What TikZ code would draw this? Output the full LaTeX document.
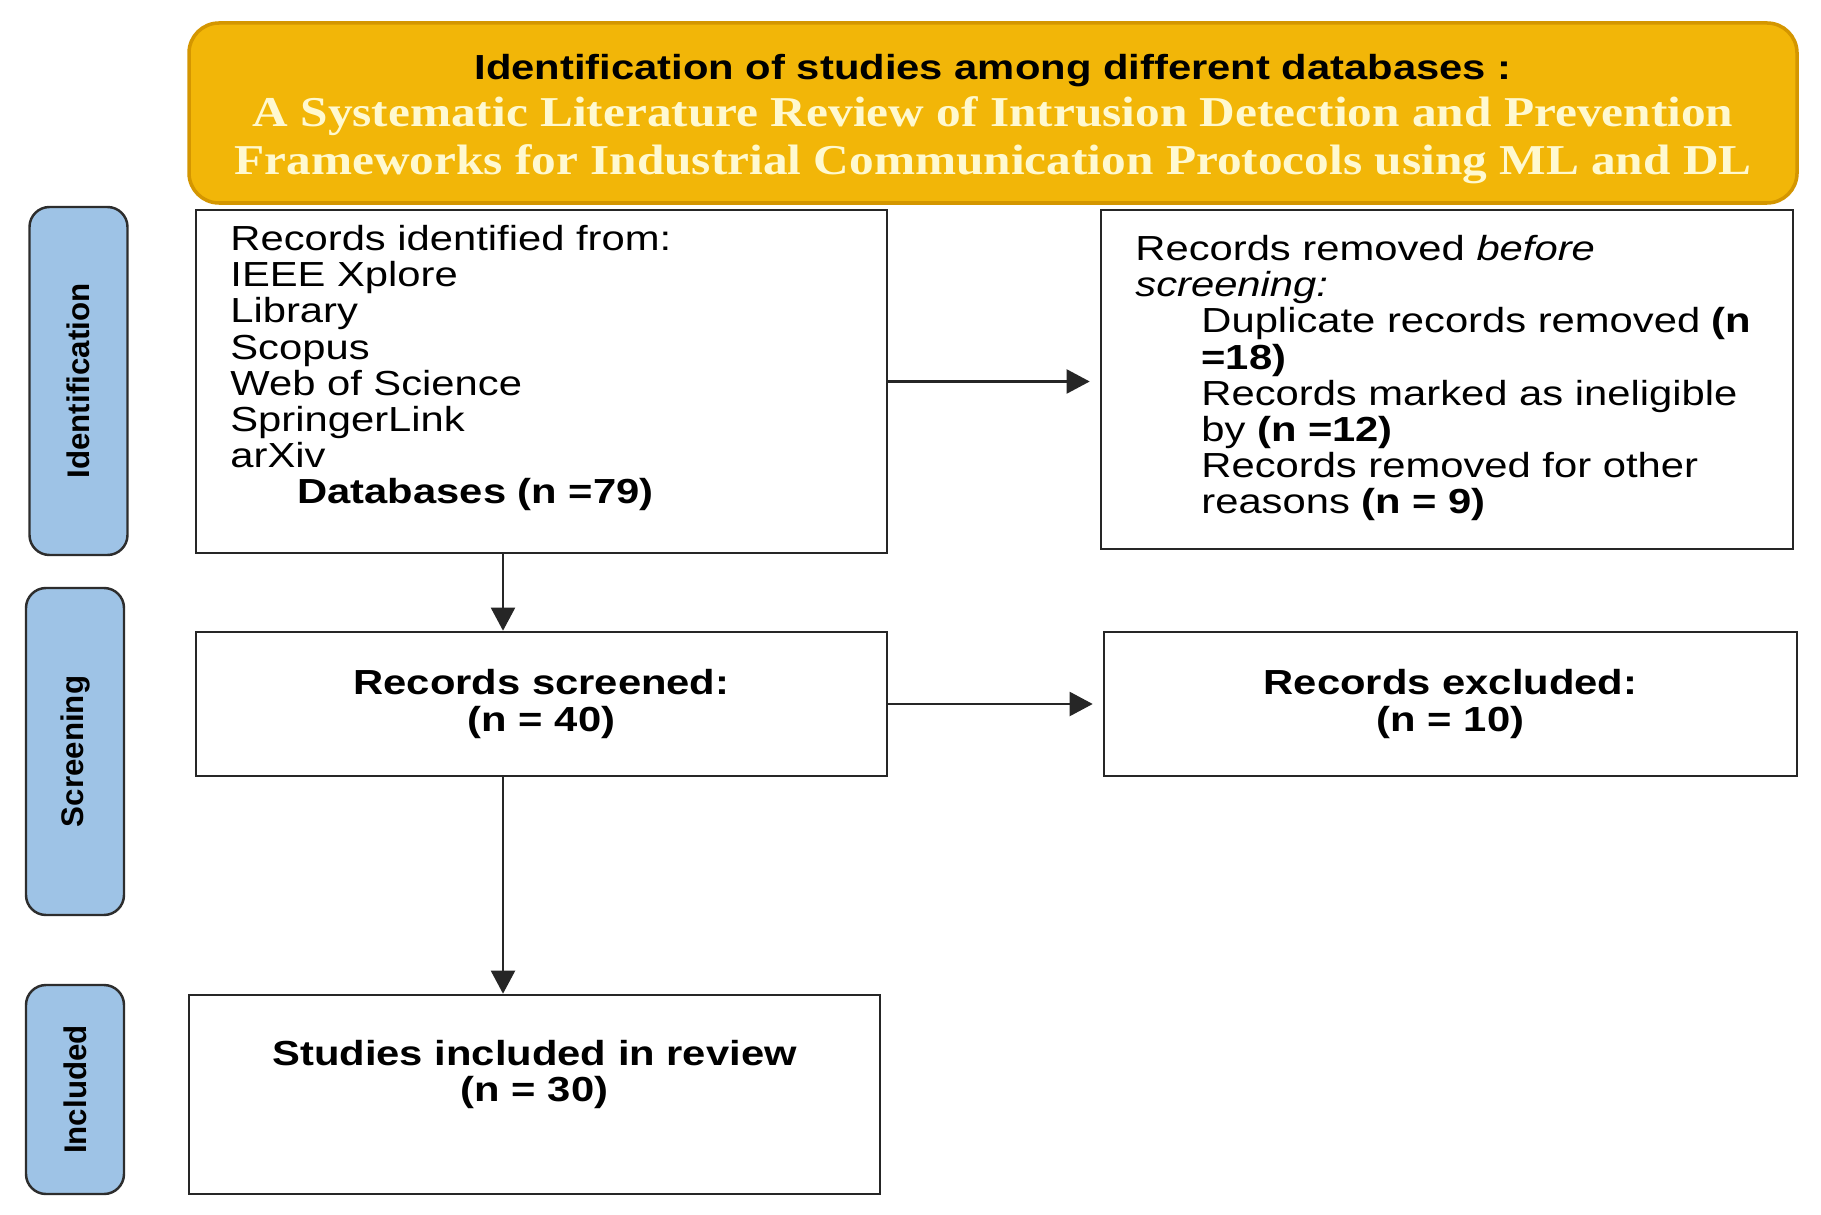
\documentclass[tikz,border=0pt]{standalone}
\usepackage{fontspec}
\setmainfont{Liberation Sans}[FakeStretch=1.2]
\newfontfamily\titleserif{Liberation Serif}[FakeStretch=1.16]
\newfontfamily\phasefont{Liberation Sans}
\usepackage{tikz}
\usetikzlibrary{arrows.meta}
\definecolor{titlegold}{RGB}{242,182,8}
\definecolor{titlerim}{RGB}{212,150,0}
\definecolor{titlecream}{RGB}{255,249,208}
\definecolor{phaseblue}{RGB}{158,195,230}
\definecolor{rimgray}{RGB}{45,45,45}
\newcommand{\titleline}{\titleserif\bfseries\fontsize{12.1}{13.6}\selectfont\color{titlecream}}

\begin{document}
\begin{tikzpicture}[x=0.1mm, y=-0.1mm,
	every node/.style={font=\fontsize{9.9}{10.3}\selectfont},
	recbox/.style={draw=black!85, line width=0.75pt, minimum width=69.1mm, inner sep=0pt, align=center},
	phase/.style={draw=rimgray, line width=0.7pt, fill=phaseblue, rounded corners=2mm, rotate=90, minimum height=9.8mm, inner sep=0pt, font=\phasefont\bfseries\fontsize{8.9}{10}\selectfont},
	flow/.style={-{Triangle[width=2.4mm,length=2.3mm]}, line width=0.6pt, black!85}]
		\pgfmathsetmacro{\arrx}{-38.5}
		\path[fill=white] (0,0) rectangle (1821,1215);
		\useasboundingbox (0,0) rectangle (1821,1215);
		\node[draw=titlerim, line width=1pt, fill=titlegold, rounded corners=3mm, minimum width=160.8mm, minimum height=18mm] (title) at (993,113) {};
		\node[align=center, inner sep=0pt, font=\fontsize{9.9}{13.6}\selectfont] (titletxt) at ([shift={(0,6)}]title.center) {\bfseries Identification of studies among different databases :\\
			\titleline A Systematic Literature Review of Intrusion Detection and Prevention\\
			\titleline Frameworks for Industrial Communication Protocols using ML and DL};
		\node[phase, minimum width=34.8mm] (phid) at (78.5,381) {Identification};
		\node[phase, minimum width=32.7mm] (phscr) at (75,751.5) {Screening};
		\node[phase, minimum width=20.9mm] (phinc) at (75,1089.5) {Included};
		\node[recbox, minimum height=34.3mm] (ident) at (541.5,381.5) {};
		\node[anchor=north west, align=left, inner sep=0pt] (identtxt) at ([shift={(35,16)}]ident.north west) {Records identified from:\\IEEE Xplore\\Library\\Scopus\\Web of Science\\SpringerLink\\arXiv\\\hspace*{6.7mm}\textbf{Databases (n =79)}};
		\node[recbox, minimum width=69.2mm, minimum height=33.9mm] (removed) at (1447,379.5) {};
		\node[anchor=north west, align=left, inner sep=0pt] (removedtxt) at ([shift={(35,26)}]removed.north west) {Records removed \textit{before}\\\textit{screening:}\\
			\hspace*{6.6mm}Duplicate records removed \textbf{(n}\\\hspace*{6.6mm}\textbf{=18)}\\
			\hspace*{6.6mm}Records marked as ineligible\\\hspace*{6.6mm}by \textbf{(n =12)}\\
			\hspace*{6.6mm}Records removed for other\\\hspace*{6.6mm}reasons \textbf{(n = 9)}};
		\node[recbox, minimum height=14.4mm, font=\bfseries\fontsize{9.9}{10.3}\selectfont] (screen) at (541.5,704) {Records screened:\\(n = 40)};
		\node[recbox, minimum width=69.3mm, minimum height=14.4mm, font=\bfseries\fontsize{9.9}{10.3}\selectfont] (excl) at (1450.5,704) {Records excluded:\\(n = 10)};
		\node[recbox, minimum height=19.9mm] (incl) at (534.5,1094.5) {};
		\node[align=center, inner sep=0pt, font=\bfseries\fontsize{9.9}{10.3}\selectfont] (incltxt) at ([shift={(0,-20)}]incl.center) {Studies included in review\\(n = 30)};
		\coordinate (downa) at ([shift={(\arrx,0)}]ident.south);
		\coordinate (downb) at ([shift={(\arrx,0)}]screen.south);
		\draw[flow, shorten >=1mm] (ident.east) -- (ident.east -| removed.west);
		\draw[flow, shorten >=1mm] (screen.east) -- (excl.west);
		\draw[flow] (downa) -- (downa |- screen.north);
		\draw[flow] (downb) -- (downb |- incl.north);
		\end{tikzpicture}
\end{document}
